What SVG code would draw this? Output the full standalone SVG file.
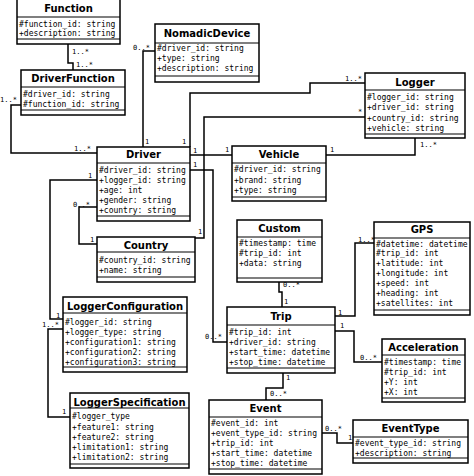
<svg xmlns="http://www.w3.org/2000/svg" width="474" height="476" viewBox="0 0 474 476">
<style>
.b{fill:#fff;stroke:#000;stroke-width:1.5}
.s{stroke:#000;stroke-width:1.2}
.t{font-family:"DejaVu Sans",sans-serif;font-weight:bold;font-size:10px;text-anchor:middle;fill:#000}
.a{font-family:"DejaVu Sans Mono",monospace;font-size:8px;fill:#000}
.c{fill:none;stroke:#000;stroke-width:1.5}
.l{font-family:"DejaVu Sans Mono",monospace;font-size:7px;fill:#000}
</style>
<rect width="474" height="476" fill="#fff"/>
<g id="connectors">
<path class="c" d="M68,44 V63 H73 V70"/>
<path class="c" d="M21,105 H11 V153 H97"/>
<path class="c" d="M155,51 H143 V147"/>
<path class="c" d="M190,147 V93 H310 V83 H365"/>
<path class="c" d="M190,155 H232"/>
<path class="c" d="M326,155 H415 V138"/>
<path class="c" d="M365,117 H204 V238 H195"/>
<path class="c" d="M190,170 H213 V342 H227"/>
<path class="c" d="M97,180 H50 V319 H63"/>
<path class="c" d="M97,207 H79 V244 H97"/>
<path class="c" d="M63,329 H48 V417 H70"/>
<path class="c" d="M279,282 V292 H282 V307"/>
<path class="c" d="M335,316 H355 V243 H374"/>
<path class="c" d="M335,331 H354 V362 H382"/>
<path class="c" d="M283,373 V388 H266 V400"/>
<path class="c" d="M322,433 H337 V443 H353"/>
<text class="l" x="72" y="54">1..*</text>
<text class="l" x="76" y="67">1..*</text>
<text class="l" x="0" y="102">1..*</text>
<text class="l" x="74" y="151">1..*</text>
<text class="l" x="133" y="50">0..*</text>
<text class="l" x="145" y="144">1</text>
<text class="l" x="182" y="144">1</text>
<text class="l" x="345" y="81">1..*</text>
<text class="l" x="193" y="153">1</text>
<text class="l" x="225" y="152">1</text>
<text class="l" x="330" y="152">1</text>
<text class="l" x="420" y="147">1..*</text>
<text class="l" x="358" y="114">*</text>
<text class="l" x="198" y="234">1</text>
<text class="l" x="193" y="167">1</text>
<text class="l" x="205" y="339">0..*</text>
<text class="l" x="88" y="178">1</text>
<text class="l" x="56" y="318">1</text>
<text class="l" x="73" y="207">0..*</text>
<text class="l" x="90" y="242">1</text>
<text class="l" x="42" y="327">1..*</text>
<text class="l" x="62" y="414">1</text>
<text class="l" x="283" y="287">0..*</text>
<text class="l" x="284" y="304">1</text>
<text class="l" x="338" y="315">1</text>
<text class="l" x="358" y="242">1..*</text>
<text class="l" x="340" y="328">1</text>
<text class="l" x="360" y="360">0..*</text>
<text class="l" x="286" y="380">1</text>
<text class="l" x="270" y="396">0..*</text>
<text class="l" x="325" y="431">0..*</text>
<text class="l" x="348" y="440">1</text>
</g>
<g id="Function">
<rect class="b" x="17" y="-3" width="103" height="47"/>
<line class="s" x1="17" y1="17" x2="120" y2="17"/>
<line class="s" x1="17" y1="39" x2="120" y2="39"/>
<text class="t" x="68.5" y="12">Function</text>
<text class="a" x="19" y="27">#function_id: string</text>
<text class="a" x="19" y="36">+description: string</text>
</g>
<g id="DriverFunction">
<rect class="b" x="21" y="70" width="104" height="45"/>
<line class="s" x1="21" y1="87" x2="125" y2="87"/>
<line class="s" x1="21" y1="110" x2="125" y2="110"/>
<text class="t" x="73" y="82">DriverFunction</text>
<text class="a" x="23" y="97">#driver_id: string</text>
<text class="a" x="23" y="107">#function_id: string</text>
</g>
<g id="NomadicDevice">
<rect class="b" x="155" y="24" width="104" height="58"/>
<line class="s" x1="155" y1="43" x2="259" y2="43"/>
<line class="s" x1="155" y1="76" x2="259" y2="76"/>
<text class="t" x="207" y="37">NomadicDevice</text>
<text class="a" x="157" y="51">#driver_id: string</text>
<text class="a" x="157" y="61">+type: string</text>
<text class="a" x="157" y="71">+description: string</text>
</g>
<g id="Logger">
<rect class="b" x="365" y="73" width="100" height="65"/>
<line class="s" x1="365" y1="90" x2="465" y2="90"/>
<line class="s" x1="365" y1="134" x2="465" y2="134"/>
<text class="t" x="415" y="86">Logger</text>
<text class="a" x="367" y="100">#logger_id: string</text>
<text class="a" x="367" y="110">+driver_id: string</text>
<text class="a" x="367" y="121">+country_id: string</text>
<text class="a" x="367" y="131">+vehicle: string</text>
</g>
<g id="Driver">
<rect class="b" x="97" y="147" width="93" height="74"/>
<line class="s" x1="97" y1="163" x2="190" y2="163"/>
<line class="s" x1="97" y1="216" x2="190" y2="216"/>
<text class="t" x="143.5" y="158">Driver</text>
<text class="a" x="99" y="173">#driver_id: string</text>
<text class="a" x="99" y="183">+logger_id: string</text>
<text class="a" x="99" y="193">+age: int</text>
<text class="a" x="99" y="203">+gender: string</text>
<text class="a" x="99" y="213">+country: string</text>
</g>
<g id="Vehicle">
<rect class="b" x="232" y="146" width="94" height="55"/>
<line class="s" x1="232" y1="163" x2="326" y2="163"/>
<line class="s" x1="232" y1="197" x2="326" y2="197"/>
<text class="t" x="279" y="158">Vehicle</text>
<text class="a" x="234" y="172">#driver_id: string</text>
<text class="a" x="234" y="183">+brand: string</text>
<text class="a" x="234" y="193">+type: string</text>
</g>
<g id="Country">
<rect class="b" x="97" y="237" width="98" height="45"/>
<line class="s" x1="97" y1="252" x2="195" y2="252"/>
<line class="s" x1="97" y1="277" x2="195" y2="277"/>
<text class="t" x="146" y="249">Country</text>
<text class="a" x="99" y="263">#country_id: string</text>
<text class="a" x="99" y="273">+name: string</text>
</g>
<g id="Custom">
<rect class="b" x="237" y="220" width="85" height="62"/>
<line class="s" x1="237" y1="237" x2="322" y2="237"/>
<line class="s" x1="237" y1="278" x2="322" y2="278"/>
<text class="t" x="279.5" y="232">Custom</text>
<text class="a" x="239" y="246">#timestamp: time</text>
<text class="a" x="239" y="256">#trip_id: int</text>
<text class="a" x="239" y="266">+data: string</text>
</g>
<g id="GPS">
<rect class="b" x="374" y="222" width="96" height="93"/>
<line class="s" x1="374" y1="238" x2="470" y2="238"/>
<line class="s" x1="374" y1="310" x2="470" y2="310"/>
<text class="t" x="422" y="233">GPS</text>
<text class="a" x="376" y="247">#datetime: datetime</text>
<text class="a" x="376" y="256">#trip_id: int</text>
<text class="a" x="376" y="266">+latitude: int</text>
<text class="a" x="376" y="276">+longitude: int</text>
<text class="a" x="376" y="286">+speed: int</text>
<text class="a" x="376" y="296">+heading: int</text>
<text class="a" x="376" y="306">+satellites: int</text>
</g>
<g id="LoggerConfiguration">
<rect class="b" x="63" y="297" width="124" height="75"/>
<line class="s" x1="63" y1="313" x2="187" y2="313"/>
<line class="s" x1="63" y1="367" x2="187" y2="367"/>
<text class="t" x="125" y="310">LoggerConfiguration</text>
<text class="a" x="65" y="325">#logger_id: string</text>
<text class="a" x="65" y="335">+logger_type: string</text>
<text class="a" x="65" y="345">+configuration1: string</text>
<text class="a" x="65" y="355">+configuration2: string</text>
<text class="a" x="65" y="365">+configuration3: string</text>
</g>
<g id="Trip">
<rect class="b" x="227" y="307" width="108" height="66"/>
<line class="s" x1="227" y1="325" x2="335" y2="325"/>
<line class="s" x1="227" y1="368" x2="335" y2="368"/>
<text class="t" x="281" y="320">Trip</text>
<text class="a" x="229" y="335">#trip_id: int</text>
<text class="a" x="229" y="345">+driver_id: string</text>
<text class="a" x="229" y="355">+start_time: datetime</text>
<text class="a" x="229" y="365">+stop_time: datetime</text>
</g>
<g id="Acceleration">
<rect class="b" x="382" y="339" width="83" height="63"/>
<line class="s" x1="382" y1="355" x2="465" y2="355"/>
<line class="s" x1="382" y1="398" x2="465" y2="398"/>
<text class="t" x="423.5" y="351">Acceleration</text>
<text class="a" x="384" y="365">#timestamp: time</text>
<text class="a" x="384" y="375">#trip_id: int</text>
<text class="a" x="384" y="385">+Y: int</text>
<text class="a" x="384" y="395">+X: int</text>
</g>
<g id="LoggerSpecification">
<rect class="b" x="70" y="393" width="119" height="75"/>
<line class="s" x1="70" y1="408" x2="189" y2="408"/>
<line class="s" x1="70" y1="464" x2="189" y2="464"/>
<text class="t" x="129.5" y="406">LoggerSpecification</text>
<text class="a" x="72" y="419">#logger_type</text>
<text class="a" x="72" y="430">+feature1: string</text>
<text class="a" x="72" y="440">+feature2: string</text>
<text class="a" x="72" y="450">+limitation1: string</text>
<text class="a" x="72" y="460">+limitation2: string</text>
</g>
<g id="Event">
<rect class="b" x="209" y="400" width="113" height="74"/>
<line class="s" x1="209" y1="417" x2="322" y2="417"/>
<line class="s" x1="209" y1="469" x2="322" y2="469"/>
<text class="t" x="265.5" y="412">Event</text>
<text class="a" x="211" y="426">#event_id: int</text>
<text class="a" x="211" y="436">+event_type_id: string</text>
<text class="a" x="211" y="446">+trip_id: int</text>
<text class="a" x="211" y="456">+start_time: datetime</text>
<text class="a" x="211" y="466">+stop_time: datetime</text>
</g>
<g id="EventType">
<rect class="b" x="353" y="420" width="115" height="43"/>
<line class="s" x1="353" y1="437" x2="468" y2="437"/>
<line class="s" x1="353" y1="458" x2="468" y2="458"/>
<text class="t" x="410.5" y="432">EventType</text>
<text class="a" x="355" y="446">#event_type_id: string</text>
<text class="a" x="355" y="456">+description: string</text>
</g>
</svg>
